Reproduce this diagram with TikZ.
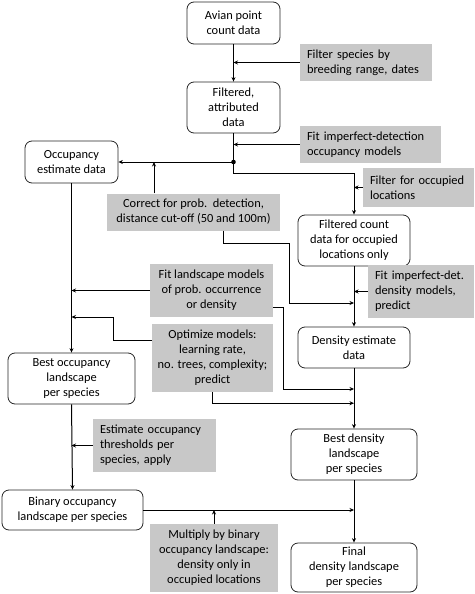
\documentclass[tikz,border=0pt]{standalone}
\usepackage{fontspec}
\setmainfont{Carlito}
\usetikzlibrary{arrows.meta}
\definecolor{boxgray}{RGB}{200,200,200}
\tikzset{
  base/.style={font=\fontsize{12.4}{15}\selectfont, inner sep=0pt, anchor=center},
  wbox/.style={base, draw=black!85, line width=0.8pt, rounded corners=7pt, fill=white, align=center},
  gboxc/.style={base, fill=boxgray, align=center},
  gboxl/.style={base, fill=boxgray, align=left, inner xsep=7pt},
  arr/.style={line width=1pt, -{Stealth[length=4.5pt,width=4pt]}},
  ln/.style={line width=1pt},
}
\begin{document}
\begin{tikzpicture}[x=1pt,y=-1pt]
\useasboundingbox (0,0) rectangle (474,594);
% white boxes
\node[wbox, minimum width=93pt, minimum height=42pt] (avian) at (233.5,23) {Avian point\\count data};
\node[wbox, minimum width=93pt, minimum height=51pt] (filt) at (233.5,107.5) {Filtered,\\attributed\\data};
\node[wbox, minimum width=93pt, minimum height=42pt] (occ) at (71.5,162) {Occupancy\\estimate data};
\node[wbox, minimum width=112pt, minimum height=51pt] (fcount) at (354,240.5) {Filtered count\\data for occupied\\locations only};
\node[wbox, minimum width=112pt, minimum height=41pt] (dens) at (354,347.5) {Density estimate\\data};
\node[wbox, minimum width=127pt, minimum height=51pt] (bocc) at (71.5,378.5) {Best occupancy\\landscape\\per species};
\node[wbox, minimum width=141pt, minimum height=40pt] (bin) at (72.5,510) {Binary occupancy\\landscape per species};
\node[wbox, minimum width=126pt, minimum height=51pt] (bdens) at (354,454.5) {Best density\\landscape\\per species};
\node[wbox, minimum width=126pt, minimum height=49pt] (final) at (354,567.5) {Final\\density landscape\\per species};
% gray boxes
\node[gboxl, text width=118pt, minimum height=37pt] (fsp) at (366,62.5) {Filter species by\\breeding range, dates};
\node[gboxl, text width=127pt, minimum height=37pt] (fit1) at (370.5,144.5) {Fit imperfect-detection\\occupancy models};
\node[gboxl, text width=97pt, minimum height=39pt] (ffo) at (418.5,187.5) {Filter for occupied\\locations};
\node[gboxc, minimum width=173pt, minimum height=37pt] (corr) at (193.5,212) {Correct for prob.\ \ detection,\\distance cut-off (50 and 100m)};
\node[gboxl, text width=92pt, minimum height=53pt] (fitdet) at (421,291.5) {Fit imperfect-det.\\density models,\\predict};
\node[gboxc, minimum width=123pt, minimum height=53pt] (fland) at (211.5,290.5) {Fit landscape models\\of prob. occurrence\\or density};
\node[gboxc, minimum width=121pt, minimum height=68pt] (opt) at (212.5,358) {Optimize models:\\learning rate,\\no. trees, complexity;\\predict};
\node[gboxl, text width=109pt, minimum height=53pt] (est) at (154.5,445.5) {Estimate occupancy\\thresholds per\\species, apply};
\node[gboxc, minimum width=128pt, minimum height=68pt] (mult) at (214,558) {Multiply by binary\\occupancy landscape:\\density only in\\occupied locations};
% connectors
\draw[arr] (avian.south) -- (filt.north);
\draw[arr] (fsp.west) -- (fsp.west -| avian.south);
\coordinate (j) at (filt.south |- occ.east);
\draw[ln] (filt.south) -- (j);
\draw[arr] (fit1.west) -- (fit1.west -| filt.south);
\draw[arr] (j) -- (occ.east);
\fill (j) circle (2.3pt);
\draw[arr] (j) -- ++(0,11) -| (fcount.north);
\draw[arr] (ffo.west) -- (ffo.west -| fcount.north);
\coordinate (c1) at ([xshift=-39.5pt]corr.north);
\draw[arr] (c1) -- (c1 |- occ.east);
\coordinate (c2) at ([xshift=29.5pt]corr.south);
\coordinate (c2b) at (289,303);
\draw[arr] (c2) -- ++(0,13) -| (c2b) -- (c2b -| fcount.south);
\draw[arr] (fcount.south) -- (dens.north);
\draw[arr] (fitdet.west) -- (fitdet.west -| fcount.south);
\draw[arr] (occ.south) -- (bocc.north);
\draw[arr] (fland.west) -- (fland.west -| occ.south);
\coordinate (f1) at (273,307);
\coordinate (f2) at (283,389);
\draw[arr] (f1) -- (f1 -| f2) -- (f2) -- (f2 -| dens.south);
\coordinate (o1) at (152,340);
\coordinate (o2) at (113,317);
\draw[arr] (o1) -- (o1 -| o2) -- (o2) -- (o2 -| occ.south);
\coordinate (o3) at ([xshift=-0.5pt]opt.south);
\draw[arr] (o3) -- ++(0,11) coordinate (o4) -- (o4 -| dens.south);
\draw[arr] (dens.south) -- (bdens.north);
\draw[arr] (bocc.south) -- (bin.north);
\draw[arr] (est.west) -- (est.west -| bocc.south);
\draw[arr] (bin.east) -- (bin.east -| bdens.south);
\draw[arr] (mult.north) -- (mult.north |- bin.east);
\draw[arr] (bdens.south) -- (final.north);
\end{tikzpicture}
\end{document}
